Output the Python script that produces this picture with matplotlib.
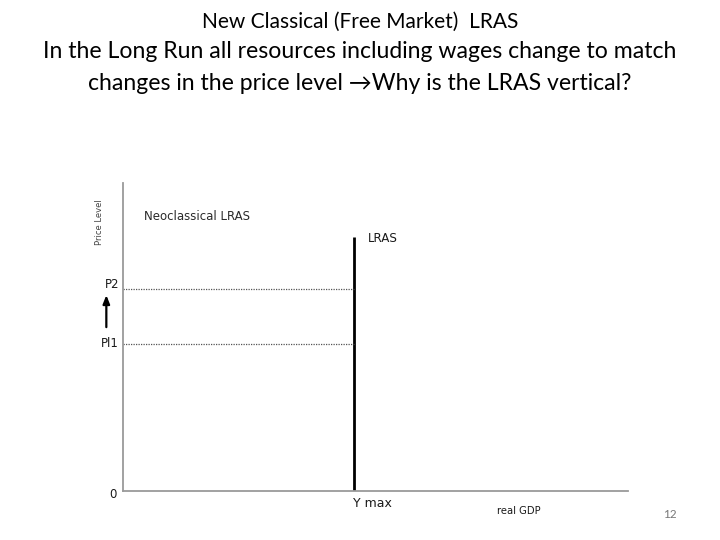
import matplotlib
matplotlib.use("Agg")
import matplotlib.pyplot as plt

# chart values (axis units 0-10)
price_labels = ["Pl1", "P2"]
price_values = [4.78, 6.57]
y_max_label = "Y max"
y_max_value = 4.58
lras_top = 8.24

title_lines = [
    "New Classical (Free Market)  LRAS",
    "In the Long Run all resources including wages change to match",
    "changes in the price level \u2192Why is the LRAS vertical?",
]

fig = plt.figure(figsize=(7.2, 5.4), dpi=100)
fig.patch.set_facecolor("white")

# axes placed in figure fractions (pixel estimates / size)
ax = fig.add_axes([123 / 720, (540 - 491) / 540, (628 - 123) / 720, (491 - 183) / 540])
ax.set_xlim(0, 10)
ax.set_ylim(0, 10)
for side in ["top", "right"]:
    ax.spines[side].set_visible(False)
for side in ["left", "bottom"]:
    ax.spines[side].set_color("#9a9a9a")
    ax.spines[side].set_linewidth(1.3)
ax.set_xticks([])
ax.set_yticks([])

txt = "#1a1a1a"

# LRAS vertical line
ax.plot([y_max_value, y_max_value], [0, lras_top], color="black", lw=2, solid_capstyle="butt")

# dotted price lines, labels: P2 sits a bit above its line, Pl1 on it
label_lift = [0.0, 0.15]
for lab, val, lift in zip(price_labels, price_values, label_lift):
    ax.plot([0, y_max_value], [val, val], color="#555555", lw=0.9, ls=(0, (1, 1)))
    ax.text(-0.08, val + lift, lab, ha="right", va="center", fontsize=8.5, color=txt)

# arrow from P1 up to P2
ax.annotate("", xy=(-0.33, price_values[1] - 0.12), xytext=(-0.33, price_values[0] + 0.45),
            xycoords="data", annotation_clip=False,
            arrowprops=dict(arrowstyle="-|>,head_length=0.5,head_width=0.2",
                            color="black", lw=1.6))

ax.text(y_max_value + 0.27, lras_top - 0.05, "LRAS", ha="left", va="center",
        fontsize=8.6, color=txt)
ax.text(0.42, 8.9, "Neoclassical LRAS", ha="left", va="center",
        fontsize=8.5, color="#2a2a2a")
ax.text(-0.46, 8.73, "Price Level", ha="center", va="center", rotation=90,
        fontsize=6, color="#444444")
ax.text(-0.12, -0.1, "0", ha="right", va="center", fontsize=8.5, color=txt)
ax.text(y_max_value - 0.03, -0.2, y_max_label, ha="left", va="top", fontsize=9, color=txt)
ax.text(7.4, -0.65, "real GDP", ha="left", va="center", fontsize=7.2, color=txt)

# slide title
title_font = ["Lato", "DejaVu Sans"]
fig.text(0.5, 1 - 22 / 540, title_lines[0], ha="center", va="center",
         fontsize=15, family=title_font)
fig.text(0.5, 1 - 52 / 540, title_lines[1], ha="center", va="center",
         fontsize=16.6, family=title_font)
fig.text(0.5, 1 - 83 / 540, title_lines[2], ha="center", va="center",
         fontsize=16.6, family=title_font)

fig.text(670 / 720, 1 - 515 / 540, "12", ha="center", va="center",
         fontsize=8.5, color="#777777", family=title_font)

fig.savefig("out.png", dpi=100, facecolor="white")
